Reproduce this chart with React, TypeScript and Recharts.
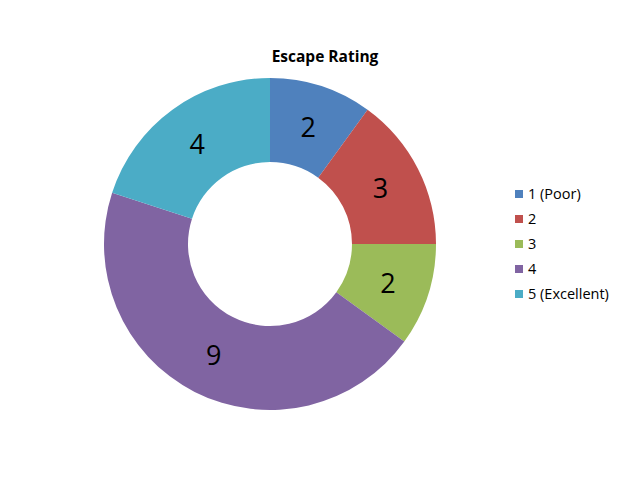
import React from 'react';
import { Cell, Legend, Pie, PieChart } from 'recharts';

const ratings = ['1 (Poor)', '2', '3', '4', '5 (Excellent)'];
const counts = [2, 3, 2, 9, 4];
const colors = ['#4F81BD', '#C0504D', '#9BBB59', '#8064A2', '#4BACC6'];

const data = ratings.map((name, i) => ({ name, value: counts[i] }));

const FONT = '"Open Sans", "Liberation Sans", sans-serif';
const RAD = Math.PI / 180;

const renderLabel = (props: any) => {
  const { cx, cy, midAngle, innerRadius, outerRadius, value } = props;
  const r = (innerRadius + outerRadius) / 2;
  const x = cx + r * Math.cos(-midAngle * RAD);
  const y = cy + r * Math.sin(-midAngle * RAD);
  return (
    <text x={x} y={y} fill="#000" fontSize={27} fontFamily={FONT} textAnchor="middle" dominantBaseline="central">
      {value}
    </text>
  );
};

const renderLegend = () => (
  <div style={{ fontFamily: FONT, fontSize: 14.5, color: '#000' }}>
    {data.map((d, i) => (
      <div key={d.name} style={{ display: 'flex', alignItems: 'center', height: 25 }}>
        <span style={{ display: 'inline-block', width: 8, height: 8, background: colors[i], marginRight: 5 }} />
        <span>{d.name}</span>
      </div>
    ))}
  </div>
);

const EscapeRatingChart: React.FC = () => {
  return (
    <div style={{ position: 'absolute', left: 0, top: 0, width: 638, height: 478, background: '#fff' }}>
      <div
        style={{
          position: 'absolute',
          top: 45,
          left: 0,
          width: 650,
          textAlign: 'center',
          fontFamily: FONT,
          fontWeight: 'bold',
          fontSize: 15.5,
          color: '#000',
        }}
      >
        Escape Rating
      </div>
      <PieChart width={638} height={478}>
        <Pie
          data={data}
          dataKey="value"
          nameKey="name"
          cx={265}
          cy={239}
          innerRadius={82}
          outerRadius={166}
          startAngle={90}
          endAngle={-270}
          stroke="none"
          label={renderLabel}
          labelLine={false}
          isAnimationActive={false}
        >
          {data.map((d, i) => (
            <Cell key={d.name} fill={colors[i]} />
          ))}
        </Pie>
        <Legend
          content={renderLegend}
          layout="vertical"
          wrapperStyle={{ position: 'absolute', left: 515, top: 181, width: 120 }}
        />
      </PieChart>
    </div>
  );
};

export default EscapeRatingChart;
